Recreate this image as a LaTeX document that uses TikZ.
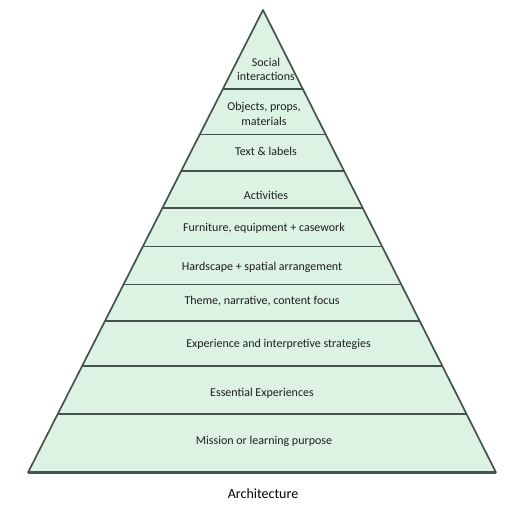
\documentclass[tikz,border=0pt]{standalone}
\usepackage{fontspec}
\setmainfont{Carlito}
\usetikzlibrary{calc}
\definecolor{pfill}{RGB}{220,243,228}
\definecolor{pline}{RGB}{68,84,76}
\definecolor{ptext}{RGB}{30,30,30}
\begin{document}
\begin{tikzpicture}[x=1pt,y=-1pt,
  lbl/.style={font=\fontsize{12}{14.5}\selectfont, text=ptext, align=center, inner sep=0pt},
  tier/.style={draw=pline, line width=1.1pt},
  edge/.style={draw=pline, line width=1.7pt, line cap=round, line join=round}]
\useasboundingbox (0,0) rectangle (520,510);
\coordinate (A) at (263,10);
\coordinate (BL) at (28,472.5);
\coordinate (BR) at (496,472.5);
\fill[pfill] (A) -- (BL) -- (BR) -- cycle;
\foreach \y [count=\i] in {89,134.5,171,208,246.5,284.5,321,366,414}{
  \coordinate (l\i) at ($(A)!{(\y-10)/462.5}!(BL)$);
  \coordinate (r\i) at ($(A)!{(\y-10)/462.5}!(BR)$);
  \draw[tier] (l\i) -- (r\i);
}
\draw[edge] (BL) -- (A) -- (BR);
\draw[draw=pline, line width=2.6pt] (BL) -- (BR);
\node[lbl] (t1) at (266,69.5) {Social\\interactions};
\node[lbl] (t2) at (264,114) {Objects, props,\\materials};
\node[lbl] (t3) at (266,151.5) {Text \& labels};
\node[lbl] (t4) at (266,195.5) {Activities};
\node[lbl] (t5) at (264,228) {Furniture, equipment + casework};
\node[lbl] (t6) at (262,267) {Hardscape + spatial arrangement};
\node[lbl] (t7) at (262,301.5) {Theme, narrative, content focus};
\node[lbl] (t8) at (278.5,344) {Experience and interpretive strategies};
\node[lbl] (t9) at (262,393) {Essential Experiences};
\node[lbl] (t10) at (264,441) {Mission or learning purpose};
\node[lbl, font=\fontsize{14}{16}\selectfont, text=black] (t11) at (263,494) {Architecture};
\end{tikzpicture}
\end{document}
